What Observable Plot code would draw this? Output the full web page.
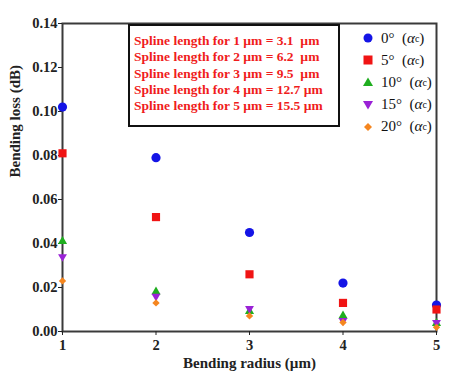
<!DOCTYPE html>
<html>
<head>
<meta charset="utf-8">
<script src="https://cdn.jsdelivr.net/npm/d3@7"></script>
<script src="https://cdn.jsdelivr.net/npm/@observablehq/plot@0.6"></script>
<style>
  body { margin: 0; background: #fff; }
  #wrap { position: relative; width: 474px; height: 379px; font-family: "Liberation Serif", "Times New Roman", serif; }
  #note { position: absolute; left: 128px; top: 24px; border: 2px solid #111; background: #fff;
          font-family: "Liberation Serif", serif !important;
          color: #f01c1c; font-weight: bold; font-size: 13.5px; line-height: 16.3px; padding: 7px 0 0 4px; box-sizing: border-box; width: 212px; height: 103px; }
  #legend { position: absolute; left: 358px; top: 27px; font-size: 15px; color: #111; font-family: "Liberation Serif", serif !important; }
  #legend .row { height: 22.2px; display: flex; align-items: center; white-space: nowrap; }
  #legend .sym { width: 20px; display: inline-flex; justify-content: center; margin-right: 3px; }
  #legend i { font-style: italic; }
</style>
</head>
<body>
<div id="wrap"></div>
<script>
const radius = [1, 2, 3, 4, 5];
const angles = ["0°", "5°", "10°", "15°", "20°"];
const loss0  = [0.102, 0.079, 0.045, 0.022, 0.012];
const loss5  = [0.081, 0.052, 0.026, 0.013, 0.010];
const loss10 = [0.041, 0.018, 0.0092, 0.0071, 0.0037];
const loss15 = [0.034, 0.016, 0.0104, 0.0050, 0.0041];
const loss20 = [0.023, 0.013, 0.0071, 0.0041, 0.0019];
const splineRadius = [1, 2, 3, 4, 5];
const splineLength = ["3.1  µm", "6.2  µm", "9.5  µm", "12.7 µm", "15.5 µm"];
const xTicks = [1, 2, 3, 4, 5];
const yTicks = [0, 0.02, 0.04, 0.06, 0.08, 0.10, 0.12, 0.14];

const seriesValues = [loss0, loss5, loss10, loss15, loss20];
const colors = ["#1414e6", "#f01414", "#1fae1f", "#9a22d6", "#f5861f"];
const symbols = ["circle", "square", "triangle", "triangle", "diamond2"];
const rotations = [0, 0, 0, 180, 0];
const sizes = [4.6, 4.6, 3.4, 3.3, 3.3];

const marks = [
  Plot.frame({stroke: "#3a3a3a", strokeWidth: 2}),
  Plot.axisX({ticks: xTicks, tickSize: 4, tickFormat: d => d, label: null, tickPadding: 4}),
  Plot.axisY({ticks: yTicks, tickSize: 4, tickFormat: d3.format(".2f"), label: null, tickPadding: 1}),
  Plot.text(["Bending radius (µm)"], {frameAnchor: "bottom", dy: 32, fontSize: 15, fontWeight: "bold", lineAnchor: "middle"}),
  Plot.text(["Bending loss (dB)"], {frameAnchor: "left", dx: -47, rotate: -90, fontSize: 15, fontWeight: "bold"})
];
seriesValues.forEach((vals, i) => {
  marks.push(Plot.dot(radius.map((r, j) => ({r, v: vals[j]})), {
    x: "r", y: "v", symbol: () => symbols[i], fill: colors[i], stroke: "none",
    r: sizes[i], rotate: rotations[i]
  }));
});

const chart = Plot.plot({
  width: 474, height: 379,
  marginLeft: 62, marginRight: 38, marginTop: 23, marginBottom: 48,
  x: {domain: [1, 5]},
  y: {domain: [0, 0.14]},
  symbol: {type: "identity"},
  style: {fontFamily: "'Liberation Serif', 'Times New Roman', serif", fontSize: "14.5px", fontWeight: "bold", color: "#222", background: "#fff", overflow: "visible"},
  marks
});
const wrap = document.getElementById("wrap");
wrap.appendChild(chart);

const note = document.createElement("div");
note.id = "note";
note.innerHTML = splineRadius.map((r, i) => `Spline length for ${r} µm = ${splineLength[i].replace(/ /g, "&nbsp;")}`).join("<br>");
wrap.appendChild(note);

const glyphs = [
  '<svg width="12" height="12"><circle cx="6" cy="6" r="4.5" fill="COLOR"/></svg>',
  '<svg width="12" height="12"><rect x="1.5" y="1.5" width="9" height="9" fill="COLOR"/></svg>',
  '<svg width="12" height="12"><path d="M6,1.5L11,10L1,10Z" fill="COLOR"/></svg>',
  '<svg width="12" height="12"><path d="M6,10.5L11,2L1,2Z" fill="COLOR"/></svg>',
  '<svg width="12" height="12"><path d="M6,2L10,6L6,10L2,6Z" fill="COLOR"/></svg>'
];
const legend = document.createElement("div");
legend.id = "legend";
legend.innerHTML = angles.map((a, i) =>
  `<div class="row"><span class="sym">${glyphs[i].replace("COLOR", colors[i])}</span>${a}&nbsp; (<i>α</i><sub style="font-size:10px">c</sub>)</div>`
).join("");
wrap.appendChild(legend);
</script>
</body>
</html>
